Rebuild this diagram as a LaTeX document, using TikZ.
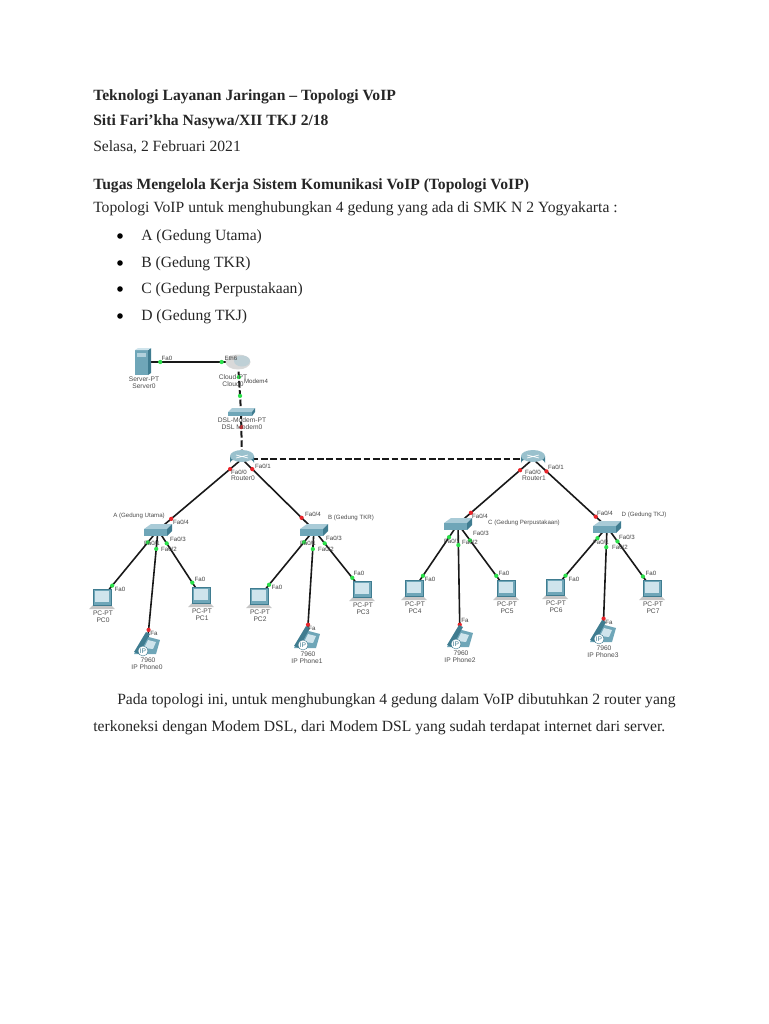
\documentclass[tikz,border=0pt]{standalone}
\usepackage{fontspec}
\setmainfont{Liberation Serif}
\newfontfamily\labfont{Liberation Sans}
\definecolor{icteal}{HTML}{6FA6B8}
\definecolor{icdark}{HTML}{3F7C90}
\definecolor{iclight}{HTML}{CFE4EC}
\definecolor{portgreen}{HTML}{2BE04A}
\definecolor{portred}{HTML}{E8242A}
\tikzset{
  bodytext/.style={anchor=base west,inner sep=0pt,font=\fontsize{11.72}{14}\selectfont,text=black!85},
  boldtext/.style={bodytext,font=\fontsize{11.72}{14}\selectfont\bfseries},
  devnode/.style={inner sep=0pt,minimum size=0pt},
  devlab/.style={inner sep=0pt,font=\labfont\fontsize{5}{6}\selectfont,text=black!70},
  portlab/.style={inner sep=0pt,font=\labfont\fontsize{4.6}{5}\selectfont,text=black!75},
  arealab/.style={inner sep=0pt,font=\labfont\fontsize{4.6}{5}\selectfont,text=black!70},
  cable/.style={line width=1.2pt,black!90},
  dashcable/.style={line width=1.5pt,black!90,dash pattern=on 5pt off 2pt},
  portdot/.style={circle,inner sep=0pt,minimum size=3.2pt},
  pcicon/.pic={
    \fill[gray!45] (-9,7) -- (9,7) -- (13,11) -- (-13,11) -- cycle;
    \fill[icteal,draw=icdark,line width=.3pt] (-9,-9) rectangle (9,7);
    \fill[iclight] (-7,-7) rectangle (7,4);},
  phoneicon/.pic={
    \fill[icteal] (-13,7) -- (-2,-11) -- (13,-7) -- (9,7) -- cycle;
    \fill[icdark] (-13,5) -- (-1,-15) -- (3,-13) -- (-8,7) -- cycle;
    \fill[iclight] (1,-7) -- (9,-5) -- (6,2) -- (-3,1) -- cycle;
    \node[circle,fill=white,draw=icdark,line width=.3pt,inner sep=.6pt,font=\labfont\fontsize{5}{5}\selectfont,text=icdark] (-ip) at (-4,4) {IP};},
  switchicon/.pic={
    \fill[iclight!60!icteal] (-14,-1) -- (-7,-6) -- (14,-6) -- (9,-1) -- cycle;
    \fill[icteal] (-14,-1) rectangle (9,6);
    \fill[icdark] (9,-1) -- (14,-6) -- (14,1) -- (9,6) -- cycle;},
  routericon/.pic={
    \fill[icdark] (-12,-3) -- (-12,4) arc[start angle=180,end angle=360,x radius=12,y radius=5] -- (12,-3) -- cycle;
    \fill[icteal!70!white] (0,-3) ellipse[x radius=12,y radius=6];
    \draw[white,line width=.5pt] (-6,-4) -- (6,-1) (-6,-1) -- (6,-4);},
  modemicon/.pic={
    \fill[iclight!60!icteal] (-13,0) -- (-9,-4) -- (14,-4) -- (11,0) -- cycle;
    \fill[icteal] (-13,0) rectangle (11,4);
    \fill[icdark] (11,0) -- (14,-4) -- (14,0) -- (11,4) -- cycle;},
  servericon/.pic={
    \fill[icteal] (-8,-12) rectangle (5,13);
    \fill[icdark] (5,-12) -- (8,-14) -- (8,11) -- (5,13) -- cycle;
    \fill[iclight] (-8,-12) -- (-5,-14) -- (8,-14) -- (5,-12) -- cycle;
    \fill[iclight!70!icteal] (-6,-9) rectangle (3,-5);},
  cloudicon/.pic={
    \fill[gray!30] (0,0) ellipse[x radius=12.5,y radius=7.5];
    \fill[iclight!80!gray] (4,-1) ellipse[x radius=8,y radius=5.5];},
}
\begin{document}
\begin{tikzpicture}[x=0.75pt,y=-0.75pt]
\useasboundingbox (0,0) rectangle (768,1024);
\node[boldtext] (title) at (93,100) {Teknologi Layanan Jaringan – Topologi VoIP};
\node[boldtext] (author) at (93,125) {Siti Fari’kha Nasywa/XII TKJ 2/18};
\node[bodytext] (date) at (93,151) {Selasa, 2 Februari 2021};
\node[boldtext] (task) at (93,189) {Tugas Mengelola Kerja Sistem Komunikasi VoIP (Topologi VoIP)};
\node[bodytext] (intro) at (93,212) {Topologi VoIP untuk menghubungkan 4 gedung yang ada di SMK N 2 Yogyakarta :};
\foreach \lab/\y in {{A (Gedung Utama)}/240,{B (Gedung TKR)}/267,{C (Gedung Perpustakaan)}/293,{D (Gedung TKJ)}/320}{
  \node[circle,fill=black,inner sep=0pt,minimum size=4.2pt] (bul\y) at (120,\y-4) {};
  \node[bodytext] (item\y) at (141,\y) {\lab};}
\node[bodytext] (para1) at (117,704) {Pada topologi ini, untuk menghubungkan 4 gedung dalam VoIP dibutuhkan 2 router yang};
\node[bodytext] (para2) at (93,731) {terkoneksi dengan Modem DSL, dari Modem DSL yang sudah terdapat internet dari server.};
% devices
\foreach \n/\x/\y in {Server0/143/362,Cloud0/238/362,Modem0/241/412,Router0/242/459,Router1/533/459,
  SW0/158/530,SW1/314/530,SW2/458/524,SW3/607/527,
  PC0/102/598,PC1/201/596,PC2/259/597,PC3/362/590,PC4/414/589,PC5/506/589,PC6/555/588,PC7/652/589,
  Phone0/147/647,Phone1/307/641,Phone2/460/640,Phone3/603/635}{
  \node[devnode] (\n) at (\x,\y) {};}
% cables with their port lights
\foreach \a/\b/\ca/\pa/\cb/\pb [count=\k] in {%
  Server0/Cloud0/portgreen/.18/portgreen/.83,
  Router0/SW0/portred/.14/portred/.845,
  Router0/SW1/portred/.14/portred/.83,
  Router1/SW2/portred/.17/portred/.83,
  Router1/SW3/portred/.18/portred/.85,
  SW0/PC0/portgreen/.18/portgreen/.82,
  SW0/Phone0/portgreen/.16/portred/.855,
  SW0/PC1/portgreen/.2/portgreen/.8,
  SW1/PC2/portgreen/.18/portgreen/.82,
  SW1/Phone1/portgreen/.17/portred/.855,
  SW1/PC3/portgreen/.22/portgreen/.8,
  SW2/PC4/portgreen/.2/portgreen/.8,
  SW2/Phone2/portgreen/.18/portred/.87,
  SW2/PC5/portgreen/.25/portgreen/.8,
  SW3/PC6/portgreen/.18/portgreen/.8,
  SW3/Phone3/portgreen/.185/portred/.85,
  SW3/PC7/portgreen/.23/portgreen/.8}{
  \draw[cable] (\a) -- (\b)
    node[portdot,fill=\ca,pos=\pa] (dot\k a) {}
    node[portdot,fill=\cb,pos=\pb] (dot\k b) {};}
\draw[dashcable] (Cloud0) -- (Modem0)
  node[portdot,fill=portgreen,pos=.3] (dotCa) {}
  node[portdot,fill=portgreen,pos=.68] (dotCb) {};
\draw[dashcable] (Modem0) -- (Router0) node[portdot,fill=portred,pos=.32] (dotMa) {};
\draw[dashcable] (Router0) -- (Router1);
% icons and names
\pic at (Server0) {servericon};
\pic at (Cloud0) {cloudicon};
\pic at (Modem0) {modemicon};
\foreach \i in {0,1}{
  \pic at (Router\i) {routericon};
  \node[devlab] (Router\i-name) at ([shift={(1,19)}]Router\i) {Router\i};}
\foreach \i in {0,...,3}{
  \pic at (SW\i) {switchicon};
  \pic at (Phone\i) {phoneicon};
  \node[devlab] (Phone\i-model) at ([shift={(1,13)}]Phone\i) {7960};
  \node[devlab] (Phone\i-name) at ([shift={(0,20)}]Phone\i) {IP Phone\i};}
\foreach \i in {0,...,7}{
  \pic at (PC\i) {pcicon};
  \node[devlab] (PC\i-model) at ([shift={(1,15)}]PC\i) {PC-PT};
  \node[devlab] (PC\i-name) at ([shift={(1,22)}]PC\i) {PC\i};}
\node[devlab] (srvmodel) at (144,379) {Server-PT};
\node[devlab] (srvname) at (144,386) {Server0};
\node[devlab] (cldmodel) at (233,377) {Cloud-PT};
\node[devlab] (cldname) at (233,384) {Cloud0};
\node[devlab] (dslmodel) at (242,420) {DSL-Modem-PT};
\node[devlab] (dslname) at (242,427) {DSL Modem0};
% port names
\foreach \lab/\x/\y [count=\k] in {%
  {Fa0}/167/358,{Eth6}/231/358,{Modem4}/256/381,
  {Fa0/0}/239/472,{Fa0/1}/263/466,{Fa0/0}/533/472,{Fa0/1}/556/467,
  {Fa0/4}/181/522,{Fa0/4}/313/514,{Fa0/4}/480/516,{Fa0/4}/605/513,
  {Fa0/3}/178/539,{Fa0/3}/334/538,{Fa0/3}/481/533,{Fa0/3}/627/537,
  {Fa0/2}/169/549,{Fa0/2}/326/549,{Fa0/2}/470/542,{Fa0/2}/620/547,
  {Fa0/1}/152/543,{Fa0/1}/308/543,{Fa0/1}/452/541,{Fa0/1}/601/542,
  {Fa0}/120/589,{Fa0}/200/579,{Fa0}/277/587,{Fa0}/359/573,
  {Fa0}/430/579,{Fa0}/504/573,{Fa0}/574/579,{Fa0}/651/573,
  {Fa}/154/633,{Fa}/312/628,{Fa}/465/620,{Fa}/609/622}{
  \node[portlab] (port\k) at (\x,\y) {\lab};}
% the four buildings
\node[arealab] (areaA) at (139,516) {A (Gedung Utama)};
\node[arealab] (areaB) at (351,518) {B (Gedung TKR)};
\node[arealab] (areaC) at (524,523) {C (Gedung Perpustakaan)};
\node[arealab] (areaD) at (644,515) {D (Gedung TKJ)};
\end{tikzpicture}
\end{document}
